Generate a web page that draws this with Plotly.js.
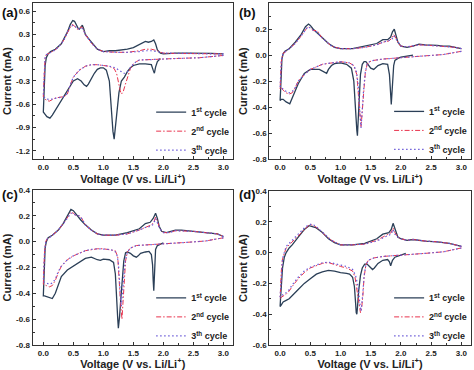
<!DOCTYPE html>
<html><head><meta charset="utf-8">
<script src="https://cdn.plot.ly/plotly-3.0.1.min.js"></script>
<style>html,body{margin:0;padding:0;background:#fff}#chart{width:474px;height:370px}</style>
</head><body><div id="chart"></div>
<script>
// ---------- data (V vs Li/Li+, current mA) ----------
var cycleNames = ["1<sup>st</sup> cycle", "2<sup>nd</sup> cycle", "3<sup>th</sup> cycle"];
var panelLabels = ["(a)", "(b)", "(c)", "(d)"];
var xTicks = [0.0, 0.5, 1.0, 1.5, 2.0, 2.5, 3.0];

// panel (a)
var a1x = [1.95,1.9,1.87,1.85,1.83,1.8,1.7,1.6,1.5,1.45,1.4,1.35,1.3,1.26,1.22,1.2,1.18,1.16,1.13,1.1,1.05,1.0,0.95,0.9,0.85,0.8,0.75,0.72,0.68,0.63,0.57,0.5,0.4,0.3,0.2,0.15,0.11,0.06,0.02,0.0,0.01,0.02,0.03,0.05,0.08,0.12,0.2,0.3,0.35,0.4,0.45,0.49,0.52,0.55,0.58,0.6,0.63,0.65,0.67,0.7,0.75,0.8,0.9,1.0,1.1,1.2,1.3,1.4,1.5,1.6,1.65,1.7,1.75,1.8,1.84,1.87,1.9,1.95,2.0,2.2,2.4,2.6,2.8,3.0];
var a1y = [-0.01,-0.05,-0.12,-0.2,-0.16,-0.09,-0.08,-0.08,-0.1,-0.13,-0.18,-0.25,-0.3,-0.45,-0.75,-0.95,-1.05,-0.95,-0.6,-0.3,-0.16,-0.13,-0.13,-0.15,-0.2,-0.28,-0.34,-0.37,-0.35,-0.3,-0.27,-0.3,-0.43,-0.55,-0.68,-0.74,-0.78,-0.76,-0.72,-0.7,-0.5,-0.3,-0.1,0.0,0.05,0.08,0.11,0.18,0.25,0.33,0.43,0.48,0.47,0.42,0.38,0.37,0.41,0.42,0.38,0.3,0.25,0.2,0.11,0.08,0.09,0.09,0.1,0.11,0.13,0.17,0.2,0.21,0.2,0.21,0.23,0.18,0.1,0.06,0.05,0.06,0.06,0.06,0.055,0.05];
var a2x = [3.0,2.6,2.2,2.0,1.8,1.6,1.55,1.5,1.45,1.4,1.36,1.33,1.3,1.28,1.25,1.22,1.18,1.1,1.0,0.9,0.8,0.7,0.6,0.5,0.45,0.4,0.35,0.3,0.25,0.2,0.15,0.1,0.05,0.02,0.0,0.01,0.02,0.03,0.05,0.1,0.2,0.3,0.35,0.4,0.45,0.48,0.52,0.56,0.6,0.63,0.66,0.7,0.8,0.9,1.0,1.2,1.4,1.5,1.6,1.7,1.8,1.85,1.9,1.95,2.0,2.2,2.5,2.8,3.0];
var a2y = [0.03,0.0,-0.01,-0.015,-0.02,-0.03,-0.05,-0.08,-0.14,-0.25,-0.36,-0.44,-0.47,-0.42,-0.3,-0.2,-0.14,-0.11,-0.1,-0.09,-0.09,-0.11,-0.16,-0.25,-0.35,-0.47,-0.5,-0.51,-0.51,-0.52,-0.54,-0.56,-0.55,-0.52,-0.5,-0.3,-0.1,0.0,0.04,0.06,0.1,0.18,0.24,0.32,0.4,0.43,0.41,0.37,0.37,0.4,0.38,0.3,0.19,0.11,0.08,0.07,0.07,0.08,0.09,0.11,0.11,0.1,0.09,0.07,0.06,0.055,0.055,0.05,0.05];
var a3x = [3.0,2.6,2.2,2.0,1.8,1.6,1.55,1.5,1.45,1.4,1.36,1.33,1.3,1.25,1.2,1.1,1.0,0.9,0.8,0.7,0.6,0.5,0.45,0.4,0.35,0.3,0.2,0.1,0.05,0.0,0.01,0.02,0.03,0.05,0.1,0.2,0.3,0.35,0.4,0.45,0.5,0.55,0.58,0.62,0.66,0.7,0.8,0.9,1.0,1.2,1.4,1.6,1.7,1.8,1.9,2.0,2.2,2.5,2.8,3.0];
var a3y = [0.03,0.0,-0.01,-0.015,-0.02,-0.03,-0.05,-0.08,-0.13,-0.18,-0.2,-0.2,-0.18,-0.15,-0.13,-0.11,-0.1,-0.09,-0.09,-0.11,-0.16,-0.25,-0.35,-0.46,-0.5,-0.51,-0.52,-0.54,-0.53,-0.5,-0.3,-0.1,0.0,0.04,0.06,0.1,0.18,0.24,0.33,0.4,0.42,0.39,0.37,0.39,0.37,0.3,0.19,0.11,0.08,0.07,0.07,0.08,0.09,0.09,0.08,0.06,0.055,0.055,0.05,0.05];

// panel (b)
var b1x = [2.2,2.1,2.0,1.95,1.9,1.88,1.86,1.85,1.84,1.83,1.81,1.78,1.7,1.62,1.58,1.55,1.5,1.45,1.42,1.39,1.36,1.33,1.31,1.29,1.28,1.27,1.25,1.22,1.18,1.1,1.0,0.9,0.85,0.8,0.77,0.73,0.65,0.5,0.4,0.3,0.25,0.2,0.16,0.1,0.05,0.02,0.0,0.01,0.02,0.03,0.05,0.08,0.15,0.25,0.35,0.42,0.47,0.5,0.55,0.62,0.7,0.8,0.9,1.0,1.2,1.4,1.6,1.7,1.78,1.83,1.86,1.89,1.92,1.95,2.0,2.1,2.2,2.3,2.4,2.5,2.6,2.7,2.8,2.9,3.0];
var b1y = [0.0,-0.005,-0.015,-0.025,-0.04,-0.08,-0.2,-0.33,-0.38,-0.3,-0.15,-0.07,-0.065,-0.08,-0.1,-0.11,-0.1,-0.07,-0.05,-0.05,-0.07,-0.15,-0.3,-0.52,-0.62,-0.58,-0.38,-0.2,-0.1,-0.07,-0.06,-0.065,-0.08,-0.11,-0.14,-0.13,-0.11,-0.11,-0.14,-0.22,-0.28,-0.34,-0.375,-0.36,-0.34,-0.34,-0.35,-0.25,-0.12,-0.03,0.01,0.03,0.05,0.1,0.16,0.22,0.24,0.23,0.2,0.17,0.13,0.09,0.06,0.05,0.05,0.07,0.09,0.12,0.12,0.14,0.18,0.2,0.14,0.1,0.07,0.06,0.07,0.085,0.08,0.08,0.075,0.07,0.07,0.06,0.05];
var b2x = [3.0,2.7,2.4,2.1,1.9,1.7,1.55,1.48,1.44,1.41,1.39,1.37,1.35,1.34,1.32,1.3,1.27,1.22,1.15,1.0,0.85,0.7,0.6,0.5,0.4,0.3,0.25,0.2,0.15,0.1,0.05,0.02,0.0,0.01,0.02,0.04,0.06,0.1,0.15,0.25,0.35,0.42,0.46,0.5,0.55,0.6,0.63,0.68,0.75,0.85,1.0,1.2,1.4,1.6,1.7,1.8,1.85,1.88,1.92,1.96,2.0,2.1,2.2,2.3,2.5,2.7,2.9,3.0];
var b2y = [0.03,0.005,-0.005,-0.015,-0.02,-0.03,-0.04,-0.05,-0.07,-0.14,-0.25,-0.4,-0.52,-0.55,-0.45,-0.3,-0.15,-0.08,-0.06,-0.05,-0.06,-0.07,-0.09,-0.11,-0.15,-0.2,-0.25,-0.29,-0.3,-0.29,-0.27,-0.25,-0.26,-0.15,-0.05,0.0,0.02,0.03,0.05,0.09,0.15,0.2,0.22,0.21,0.19,0.19,0.18,0.14,0.11,0.07,0.05,0.05,0.06,0.08,0.1,0.11,0.13,0.16,0.13,0.09,0.07,0.065,0.07,0.08,0.075,0.07,0.06,0.05];
var b3x = [3.0,2.7,2.4,2.1,1.9,1.7,1.55,1.48,1.44,1.41,1.38,1.36,1.34,1.33,1.31,1.29,1.26,1.22,1.15,1.0,0.85,0.7,0.6,0.5,0.4,0.3,0.25,0.2,0.15,0.1,0.05,0.02,0.0,0.01,0.02,0.04,0.06,0.1,0.15,0.25,0.35,0.42,0.46,0.5,0.55,0.6,0.63,0.68,0.75,0.85,1.0,1.2,1.4,1.6,1.7,1.8,1.85,1.88,1.92,1.96,2.0,2.1,2.2,2.3,2.5,2.7,2.9,3.0];
var b3y = [0.03,0.005,-0.005,-0.015,-0.02,-0.03,-0.04,-0.05,-0.07,-0.13,-0.28,-0.45,-0.56,-0.5,-0.35,-0.22,-0.12,-0.08,-0.06,-0.05,-0.06,-0.07,-0.09,-0.11,-0.15,-0.2,-0.25,-0.28,-0.29,-0.28,-0.26,-0.25,-0.25,-0.15,-0.05,0.0,0.02,0.03,0.05,0.09,0.15,0.2,0.22,0.21,0.19,0.18,0.17,0.14,0.11,0.07,0.05,0.05,0.06,0.08,0.1,0.11,0.12,0.15,0.12,0.09,0.07,0.065,0.07,0.08,0.075,0.07,0.06,0.05];

// panel (c)
var c1x = [2.0,1.95,1.9,1.87,1.86,1.85,1.84,1.83,1.82,1.8,1.76,1.7,1.62,1.58,1.55,1.5,1.45,1.4,1.37,1.34,1.31,1.29,1.27,1.26,1.25,1.24,1.22,1.2,1.17,1.1,1.0,0.95,0.9,0.8,0.7,0.6,0.5,0.4,0.3,0.25,0.2,0.15,0.1,0.05,0.02,0.0,0.01,0.02,0.03,0.05,0.08,0.15,0.25,0.33,0.4,0.46,0.5,0.55,0.62,0.7,0.8,0.9,1.0,1.2,1.4,1.6,1.7,1.78,1.83,1.87,1.9,1.93,1.97,2.05,2.2,2.3,2.5,2.7,2.9,3.0];
var c1y = [-0.01,-0.02,-0.03,-0.06,-0.15,-0.3,-0.38,-0.3,-0.18,-0.1,-0.075,-0.08,-0.09,-0.11,-0.12,-0.11,-0.09,-0.08,-0.085,-0.15,-0.3,-0.45,-0.58,-0.65,-0.67,-0.6,-0.4,-0.25,-0.16,-0.14,-0.135,-0.145,-0.14,-0.12,-0.13,-0.16,-0.19,-0.22,-0.27,-0.33,-0.4,-0.44,-0.43,-0.42,-0.42,-0.42,-0.3,-0.15,-0.05,0.0,0.03,0.05,0.09,0.14,0.2,0.25,0.24,0.21,0.17,0.13,0.09,0.06,0.05,0.05,0.07,0.1,0.14,0.15,0.18,0.22,0.18,0.12,0.08,0.07,0.09,0.09,0.08,0.07,0.06,0.04];
var c2x = [3.0,2.7,2.4,2.1,1.9,1.7,1.55,1.45,1.4,1.37,1.35,1.33,1.32,1.31,1.29,1.27,1.24,1.2,1.1,1.0,0.9,0.8,0.7,0.6,0.5,0.4,0.3,0.25,0.2,0.15,0.1,0.05,0.02,0.0,0.01,0.02,0.04,0.06,0.1,0.15,0.25,0.35,0.42,0.46,0.5,0.55,0.6,0.64,0.7,0.8,0.9,1.0,1.2,1.4,1.6,1.7,1.8,1.84,1.87,1.9,1.94,2.0,2.1,2.2,2.3,2.5,2.7,2.9,3.0];
var c2y = [0.03,0.005,-0.005,-0.015,-0.02,-0.025,-0.03,-0.05,-0.08,-0.15,-0.3,-0.48,-0.58,-0.6,-0.5,-0.3,-0.12,-0.07,-0.06,-0.055,-0.055,-0.06,-0.07,-0.09,-0.11,-0.14,-0.19,-0.24,-0.3,-0.34,-0.35,-0.34,-0.33,-0.33,-0.2,-0.08,0.0,0.02,0.03,0.05,0.09,0.15,0.2,0.23,0.22,0.2,0.2,0.18,0.13,0.09,0.06,0.05,0.05,0.06,0.09,0.11,0.13,0.15,0.19,0.16,0.1,0.07,0.07,0.085,0.085,0.08,0.07,0.06,0.04];
var c3x = [3.0,2.7,2.4,2.1,1.9,1.7,1.55,1.45,1.4,1.36,1.34,1.32,1.3,1.29,1.27,1.25,1.22,1.18,1.1,1.0,0.9,0.8,0.7,0.6,0.5,0.4,0.3,0.25,0.2,0.15,0.1,0.05,0.02,0.0,0.01,0.02,0.04,0.06,0.1,0.15,0.25,0.35,0.42,0.46,0.5,0.55,0.6,0.64,0.7,0.8,0.9,1.0,1.2,1.4,1.6,1.7,1.8,1.84,1.87,1.9,1.94,2.0,2.1,2.2,2.3,2.5,2.7,2.9,3.0];
var c3y = [0.03,0.005,-0.005,-0.015,-0.02,-0.025,-0.03,-0.05,-0.08,-0.16,-0.3,-0.44,-0.5,-0.46,-0.3,-0.16,-0.09,-0.07,-0.06,-0.055,-0.055,-0.06,-0.07,-0.09,-0.11,-0.14,-0.19,-0.23,-0.29,-0.32,-0.33,-0.32,-0.31,-0.31,-0.2,-0.08,0.0,0.02,0.03,0.05,0.09,0.15,0.2,0.22,0.22,0.2,0.2,0.18,0.13,0.09,0.06,0.05,0.05,0.06,0.09,0.11,0.12,0.14,0.18,0.15,0.1,0.07,0.07,0.085,0.085,0.08,0.07,0.06,0.04];

// panel (d)
var d1x = [2.08,2.0,1.9,1.86,1.84,1.83,1.81,1.78,1.7,1.62,1.56,1.53,1.48,1.44,1.4,1.36,1.33,1.3,1.28,1.27,1.26,1.25,1.23,1.2,1.15,1.1,1.0,0.9,0.8,0.7,0.6,0.5,0.4,0.3,0.2,0.15,0.1,0.05,0.02,0.0,0.01,0.02,0.04,0.07,0.1,0.15,0.2,0.3,0.4,0.48,0.53,0.6,0.7,0.8,0.9,1.0,1.2,1.4,1.6,1.7,1.8,1.84,1.87,1.9,1.95,2.0,2.1,2.2,2.4,2.6,2.8,3.0];
var d1y = [-0.005,-0.015,-0.03,-0.05,-0.08,-0.085,-0.06,-0.045,-0.05,-0.07,-0.1,-0.11,-0.09,-0.075,-0.075,-0.1,-0.15,-0.25,-0.36,-0.4,-0.39,-0.33,-0.22,-0.16,-0.14,-0.135,-0.13,-0.12,-0.115,-0.125,-0.14,-0.17,-0.2,-0.24,-0.28,-0.3,-0.31,-0.32,-0.34,-0.35,-0.28,-0.2,-0.1,-0.03,0.0,0.03,0.05,0.1,0.15,0.175,0.17,0.16,0.13,0.09,0.065,0.05,0.05,0.06,0.09,0.12,0.13,0.15,0.19,0.15,0.1,0.09,0.08,0.085,0.075,0.07,0.06,0.04];
var d2x = [3.0,2.7,2.4,2.1,1.9,1.7,1.55,1.46,1.42,1.39,1.37,1.35,1.33,1.31,1.28,1.24,1.2,1.1,1.0,0.9,0.8,0.7,0.6,0.5,0.4,0.3,0.2,0.15,0.1,0.05,0.02,0.0,0.01,0.02,0.04,0.07,0.1,0.15,0.2,0.3,0.4,0.47,0.52,0.58,0.65,0.75,0.85,1.0,1.2,1.4,1.6,1.7,1.8,1.84,1.87,1.9,1.95,2.0,2.1,2.2,2.4,2.6,2.8,3.0];
var d2y = [0.03,0.005,-0.005,-0.015,-0.02,-0.025,-0.035,-0.05,-0.08,-0.16,-0.28,-0.36,-0.39,-0.34,-0.24,-0.16,-0.12,-0.1,-0.09,-0.075,-0.065,-0.07,-0.085,-0.1,-0.13,-0.17,-0.22,-0.25,-0.27,-0.28,-0.29,-0.3,-0.2,-0.12,-0.04,0.0,0.03,0.05,0.07,0.11,0.15,0.175,0.18,0.17,0.15,0.11,0.08,0.05,0.05,0.055,0.08,0.1,0.12,0.13,0.16,0.13,0.1,0.09,0.08,0.085,0.075,0.07,0.06,0.04];
var d3x = [3.0,2.7,2.4,2.1,1.9,1.7,1.55,1.46,1.42,1.39,1.37,1.35,1.34,1.32,1.29,1.25,1.2,1.1,1.0,0.9,0.8,0.7,0.6,0.5,0.4,0.3,0.2,0.15,0.1,0.05,0.02,0.0,0.01,0.02,0.04,0.07,0.1,0.15,0.2,0.3,0.4,0.47,0.52,0.58,0.65,0.75,0.85,1.0,1.2,1.4,1.6,1.7,1.8,1.84,1.87,1.9,1.95,2.0,2.1,2.2,2.4,2.6,2.8,3.0];
var d3y = [0.03,0.005,-0.005,-0.015,-0.02,-0.025,-0.035,-0.05,-0.08,-0.15,-0.26,-0.35,-0.38,-0.33,-0.22,-0.15,-0.11,-0.09,-0.08,-0.07,-0.062,-0.066,-0.08,-0.095,-0.12,-0.16,-0.21,-0.24,-0.26,-0.27,-0.28,-0.29,-0.2,-0.12,-0.04,0.0,0.04,0.06,0.08,0.12,0.16,0.18,0.185,0.175,0.15,0.11,0.08,0.05,0.05,0.055,0.075,0.095,0.11,0.12,0.15,0.12,0.1,0.09,0.08,0.085,0.075,0.07,0.06,0.04];

// ---------- build ----------
var seriesX = [[a1x,a2x,a3x],[b1x,b2x,b3x],[c1x,c2x,c3x],[d1x,d2x,d3x]];
var seriesY = [[a1y,a2y,a3y],[b1y,b2y,b3y],[c1y,c2y,c3y],[d1y,d2y,d3y]];
var styles = [
  {color:'#2b3f57', width:1.3, dash:'solid'},
  {color:'#e8344e', width:1.0, dash:'5px,2px,1.5px,2px'},
  {color:'#6a5ad8', width:1.2, dash:'1.5px,2.5px'}
];
var FONT = 'Liberation Sans, Arial, sans-serif';
var traces = [];
for (var p = 0; p < 4; p++) {
  for (var s = 0; s < 3; s++) {
    traces.push({
      type:'scatter', mode:'lines',
      x: seriesX[p][s], y: seriesY[p][s],
      xaxis: p === 0 ? 'x' : 'x' + (p+1),
      yaxis: p === 0 ? 'y' : 'y' + (p+1),
      name: cycleNames[s],
      legend: p === 0 ? 'legend' : 'legend' + (p+1),
      line: styles[s],
      hoverinfo:'skip'
    });
  }
}
var xDom = [[0.0686,0.4916],[0.568,0.9937],[0.0686,0.4916],[0.568,0.9937]];
var yDom = [[0.5695,0.9927],[0.5703,0.9911],[0.0676,0.4865],[0.0676,0.4838]];
var yRanges = [[-1.31,0.71],[-0.8,0.4],[-0.8,0.4],[-0.6,0.4]];
var yTicks = [[-1.2,-0.9,-0.6,-0.3,0.0,0.3,0.6],[-0.8,-0.6,-0.4,-0.2,0.0,0.2,0.4],[-0.8,-0.6,-0.4,-0.2,0.0,0.2,0.4],[-0.6,-0.4,-0.2,0.0,0.2,0.4]];
var legPos = [[0.494,0.555],[0.996,0.557],[0.494,0.053],[0.996,0.053]];
var labelPos = [[0.0,0.967],[0.5,0.965],[0.0,0.473],[0.5,0.473]];

var layout = {
  width:474, height:370, margin:{l:0,r:0,t:0,b:0},
  paper_bgcolor:'#fff', plot_bgcolor:'#fff',
  font:{family:FONT, color:'#222'},
  annotations:[]
};
for (var p = 0; p < 4; p++) {
  var sfx = p === 0 ? '' : String(p+1);
  layout['xaxis'+sfx] = {
    domain:xDom[p], range:[-0.18,3.16], anchor:'y'+sfx,
    tickvals:xTicks, ticktext:xTicks.map(function(v){return v.toFixed(1);}),
    ticks:'inside', ticklen:3, tickwidth:1, tickcolor:'#333',
    minor:{ticks:'inside', ticklen:2, tickwidth:1, tickcolor:'#333', dtick:0.25, tick0:0},
    showline:true, mirror:true, linecolor:'#333', linewidth:1,
    showgrid:false, zeroline:false,
    tickfont:{family:FONT, size:8, weight:'bold', color:'#222'},
    title:{text:'Voltage (V vs. Li/Li<sup>+</sup>)', font:{family:FONT, size:11, weight:'bold', color:'#222'}, standoff:2}
  };
  var yt = yTicks[p];
  layout['yaxis'+sfx] = {
    domain:yDom[p], range:yRanges[p], anchor:'x'+sfx,
    tickvals:yt, ticktext:yt.map(function(v){return v.toFixed(1);}),
    ticks:'inside', ticklen:3, tickwidth:1, tickcolor:'#333',
    minor:{ticks:'inside', ticklen:2, tickwidth:1, tickcolor:'#333', dtick:(p===0?0.15:0.1), tick0:0},
    showline:true, mirror:true, linecolor:'#333', linewidth:1,
    showgrid:false, zeroline:false,
    tickfont:{family:FONT, size:8, weight:'bold', color:'#222'},
    title:{text:'Current (mA)', font:{family:FONT, size:11, weight:'bold', color:'#222'}, standoff:2}
  };
  layout['legend'+sfx] = {
    x:legPos[p][0], y:legPos[p][1], xanchor:'right', yanchor:'bottom', xref:'paper', yref:'paper',
    bgcolor:'rgba(0,0,0,0)', itemwidth:30, tracegroupgap:0,
    font:{family:FONT, size:9, weight:'bold', color:'#222'}
  };
  layout.annotations.push({
    text:panelLabels[p], x:labelPos[p][0], y:labelPos[p][1], xref:'paper', yref:'paper',
    xanchor:'left', yanchor:'middle', showarrow:false,
    font:{family:FONT, size:13, weight:'bold', color:'#111'}
  });
}
Plotly.newPlot('chart', traces, layout, {staticPlot:true, displayModeBar:false});
</script></body></html>
